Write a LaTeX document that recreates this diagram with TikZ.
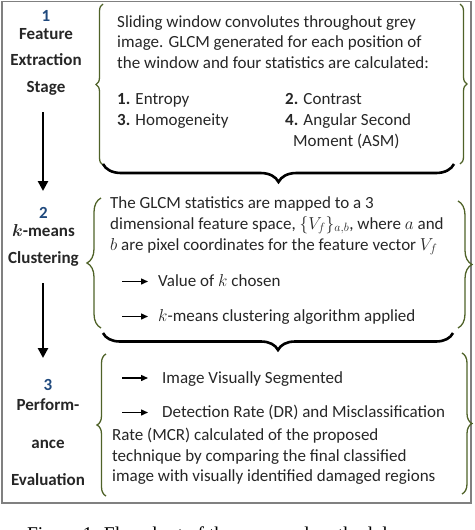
\documentclass[tikz,border=0pt]{standalone}
\usepackage{amsmath}
\usepackage{fontspec}
\setmainfont{Carlito}
\newfontfamily\captionfont{Liberation Serif}
\usetikzlibrary{arrows.meta,decorations.pathreplacing}
\definecolor{stagenum}{RGB}{31,73,125}
\definecolor{bracegreen}{RGB}{79,98,40}
\definecolor{framegray}{RGB}{128,128,128}

\begin{document}
\begin{tikzpicture}[x=1pt, y=-1pt, every node/.style={inner sep=0pt, text=black!85},%
        stagelabel/.style={anchor=base, align=center, font=\bfseries\fontsize{17}{26.5}\selectfont},
        boxtext/.style={anchor=base west, align=left, font=\fontsize{17}{20.6}\selectfont},
        sidebrace/.style={draw=bracegreen, line width=1.3pt, decorate, decoration={brace, amplitude=#1}},
        bottombrace/.style={draw=black, line width=2.6pt, decorate, decoration={brace, amplitude=#1}},
        flowarrow/.style={line width=2.5pt, -{Triangle[length=10pt, width=10pt]}},
        itemarrow/.style={line width=1.4pt, -{Triangle[length=7pt, width=6pt]}}]
    \useasboundingbox (0,0) rectangle (474,530);
    \clip (0,0) rectangle (474,530);
    \draw[framegray, line width=1.5pt] (2,1.5) rectangle (471,503);

    % stages on the left (a node's base is its last line)
    \node[stagelabel] (stage1) at (46,92.3) {\textcolor{stagenum}{1}\\[-9pt]Feature\\Extraction\\Stage};
    \node[stagelabel] (stage2) at (43.5,263) {\textcolor{stagenum}{2}\\[-8.8pt]$\boldsymbol{k}$-means\\Clustering};
    \node[stagelabel] (stage3) at (48,485) {\textcolor{stagenum}{3}\\[-6.5pt]Perform-\\[11pt]ance\\[10.5pt]Evaluation};

    \coordinate (flow1a) at (43,112);
    \coordinate (flow1b) at (43,191);
    \coordinate (flow2a) at (43,283);
    \coordinate (flow2b) at (43,358);
    \draw[flowarrow] (flow1a) -- (flow1b);
    \draw[flowarrow] (flow2a) -- (flow2b);

    % box 1
    \node[boxtext] (glcm) at (117,68.5) {Sliding window convolutes throughout grey\\image. GLCM generated for each position of\\the window and four statistics are calculated:};
    \node[boxtext] (statsa) at (117,125) {\textbf{1.} Entropy\\\textbf{3.} Homogeneity};
    \node[boxtext] (statsb) at (285,146) {\textbf{2.} Contrast\\\textbf{4.} Angular Second\\\hspace{8pt}Moment (ASM)};
    \draw[sidebrace=7pt] (103,165) -- (103,4);
    \draw[sidebrace=7pt] (460,4) -- (460,164);
    \draw[bottombrace=18pt] (454,164) -- (103,164);

    % box 2
    \node[boxtext] (mapping) at (110,250) {The GLCM statistics are mapped to a 3\\dimensional feature space, $\{V_f\}_{a,b}$, where $a$ and\\$b$ are pixel coordinates for the feature vector $V_f$};
    \node[boxtext] (kvalue) at (158,286.7) {Value of $k$ chosen};
    \node[boxtext] (kmeans) at (158,321.7) {$k$-means clustering algorithm applied};
    \coordinate (karrow1) at (122,281.5);
    \coordinate (karrow2) at (122,316.5);
    \draw[itemarrow] (karrow1) -- ++(26,0);
    \draw[itemarrow] (karrow2) -- ++(26,0);
    \draw[sidebrace=14pt] (101,328) -- (101,198);
    \draw[sidebrace=14pt] (458,201) -- (458,328);
    \draw[bottombrace=17pt] (453,333) -- (103,333);

    % box 3
    \node[boxtext] (segment) at (162,383) {Image Visually Segmented};
    \node[boxtext] (detect) at (162,417) {Detection Rate (DR) and Misclassification};
    \node[boxtext] (detectmore) at (112,481.7) {Rate (MCR) calculated of the proposed\\technique by comparing the final classified\\image with visually identified damaged regions};
    \coordinate (earrow1) at (122,378);
    \coordinate (earrow2) at (122,412.5);
    \draw[itemarrow] (earrow1) -- ++(26,0);
    \draw[itemarrow] (earrow2) -- ++(26,0);
    \draw[sidebrace=9pt] (106,496) -- (106,354);
    \draw[sidebrace=10pt] (462,353) -- (462,494);

    % caption, cut off by the page edge
    \node[anchor=base, text=black, font=\captionfont\fontsize{19.5}{22}\selectfont] (caption) at (222,540) {Figure 1. Flowchart of the proposed methodology};
\end{tikzpicture}
\end{document}
